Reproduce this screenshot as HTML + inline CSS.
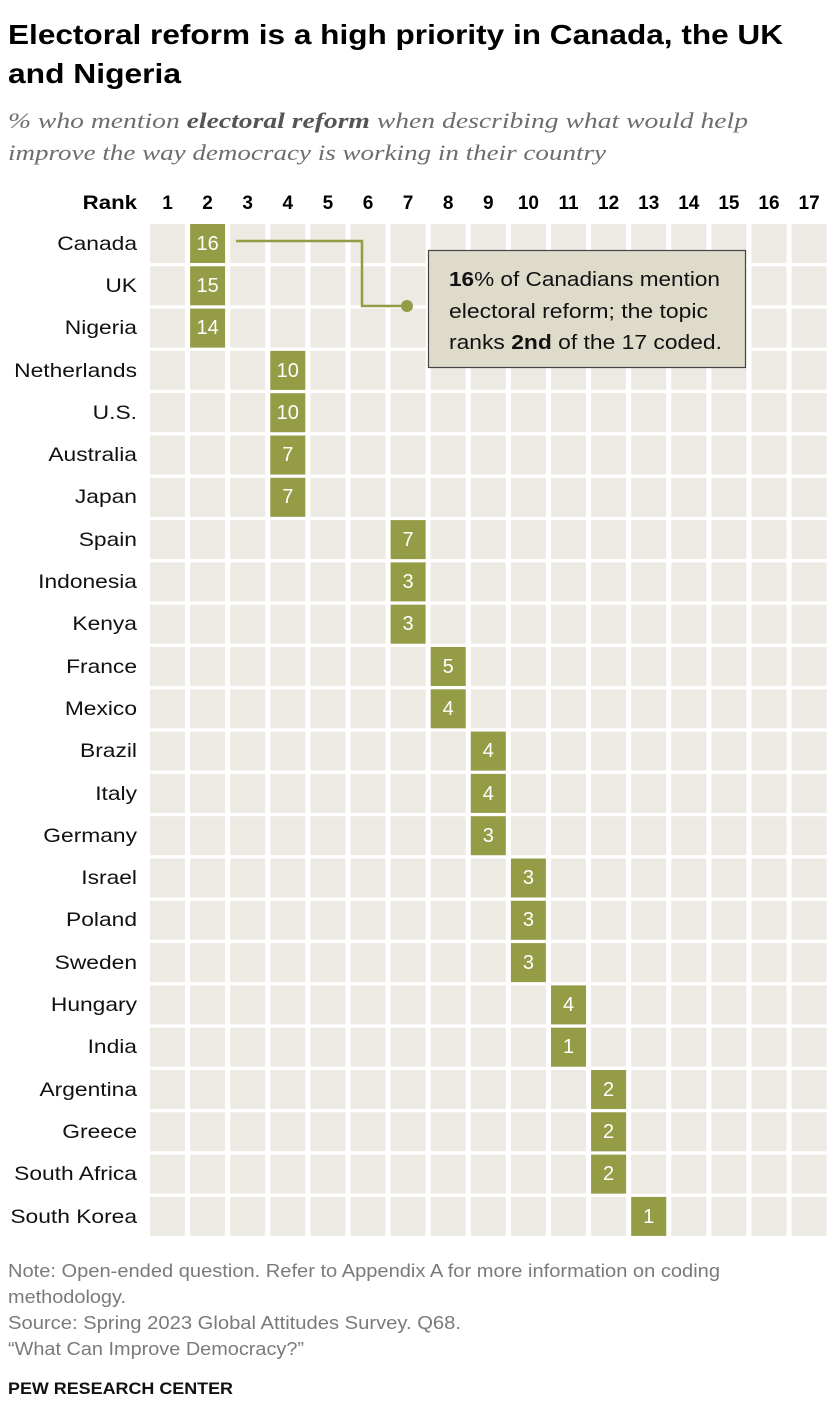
<!DOCTYPE html>
<html><head><meta charset="utf-8"><style>
html,body{margin:0;padding:0;background:#fff;}
svg{display:block;}
text{font-family:"Liberation Sans",sans-serif;}
</style></head><body>
<svg width="840" height="1421" viewBox="0 0 840 1421" xmlns="http://www.w3.org/2000/svg">
<defs>
<pattern id="g" x="150" y="224" width="40.1" height="42.3" patternUnits="userSpaceOnUse">
<rect x="0" y="0" width="35" height="39" fill="#ECEAE3"/>
</pattern>
</defs>
<text x="8" y="44" font-size="28" font-weight="bold" fill="#000" textLength="775" lengthAdjust="spacingAndGlyphs">Electoral reform is a high priority in Canada, the UK</text>
<text x="8" y="83" font-size="28" font-weight="bold" fill="#000" textLength="173" lengthAdjust="spacingAndGlyphs">and Nigeria</text>
<text x="8" y="128" font-size="22" font-style="italic" fill="#6d6d6d" style="font-family:'Liberation Serif',serif" textLength="740" lengthAdjust="spacingAndGlyphs">% who mention <tspan font-weight="bold" fill="#555">electoral reform</tspan> when describing what would help</text>
<text x="8" y="160" font-size="22" font-style="italic" fill="#6d6d6d" style="font-family:'Liberation Serif',serif" textLength="598" lengthAdjust="spacingAndGlyphs">improve the way democracy is working in their country</text>

<g font-size="19" font-weight="bold" fill="#000" text-anchor="middle">
<text x="137" y="209" text-anchor="end" transform="translate(137,0) scale(1.17,1) translate(-137,0)">Rank</text>
<text x="167.5" y="209">1</text><text x="207.6" y="209">2</text><text x="247.7" y="209">3</text><text x="287.8" y="209">4</text><text x="327.9" y="209">5</text><text x="368" y="209">6</text><text x="408.1" y="209">7</text><text x="448.2" y="209">8</text><text x="488.3" y="209">9</text><text x="528.4" y="209">10</text><text x="568.5" y="209">11</text><text x="608.6" y="209">12</text><text x="648.7" y="209">13</text><text x="688.8" y="209">14</text><text x="728.9" y="209">15</text><text x="769" y="209">16</text><text x="809.1" y="209">17</text>
</g>

<rect x="150" y="224" width="677" height="1012" fill="url(#g)"/>

<g font-size="19" fill="#111" text-anchor="end" transform="translate(137,0) scale(1.2,1) translate(-137,0)">
<text x="137" y="250">Canada</text>
<text x="137" y="292">UK</text>
<text x="137" y="334">Nigeria</text>
<text x="137" y="377">Netherlands</text>
<text x="137" y="419">U.S.</text>
<text x="137" y="461">Australia</text>
<text x="137" y="503">Japan</text>
<text x="137" y="546">Spain</text>
<text x="137" y="588">Indonesia</text>
<text x="137" y="630">Kenya</text>
<text x="137" y="673">France</text>
<text x="137" y="715">Mexico</text>
<text x="137" y="757">Brazil</text>
<text x="137" y="800">Italy</text>
<text x="137" y="842">Germany</text>
<text x="137" y="884">Israel</text>
<text x="137" y="926">Poland</text>
<text x="137" y="969">Sweden</text>
<text x="137" y="1011">Hungary</text>
<text x="137" y="1053">India</text>
<text x="137" y="1096">Argentina</text>
<text x="137" y="1138">Greece</text>
<text x="137" y="1180">South Africa</text>
<text x="137" y="1223">South Korea</text>
</g>

<g fill="#949C45">
<rect x="190.1" y="224" width="35" height="39"/>
<rect x="190.1" y="266.3" width="35" height="39"/>
<rect x="190.1" y="308.6" width="35" height="39"/>
<rect x="270.3" y="350.9" width="35" height="39"/>
<rect x="270.3" y="393.2" width="35" height="39"/>
<rect x="270.3" y="435.5" width="35" height="39"/>
<rect x="270.3" y="477.8" width="35" height="39"/>
<rect x="390.6" y="520.1" width="35" height="39"/>
<rect x="390.6" y="562.4" width="35" height="39"/>
<rect x="390.6" y="604.7" width="35" height="39"/>
<rect x="430.7" y="647" width="35" height="39"/>
<rect x="430.7" y="689.3" width="35" height="39"/>
<rect x="470.8" y="731.6" width="35" height="39"/>
<rect x="470.8" y="773.9" width="35" height="39"/>
<rect x="470.8" y="816.2" width="35" height="39"/>
<rect x="510.9" y="858.5" width="35" height="39"/>
<rect x="510.9" y="900.8" width="35" height="39"/>
<rect x="510.9" y="943.1" width="35" height="39"/>
<rect x="551" y="985.4" width="35" height="39"/>
<rect x="551" y="1027.7" width="35" height="39"/>
<rect x="591.1" y="1070" width="35" height="39"/>
<rect x="591.1" y="1112.3" width="35" height="39"/>
<rect x="591.1" y="1154.6" width="35" height="39"/>
<rect x="631.2" y="1196.9" width="35" height="39"/>
</g>
<g font-size="20" fill="#fff" text-anchor="middle">
<text x="207.6" y="250">16</text>
<text x="207.6" y="292">15</text>
<text x="207.6" y="334">14</text>
<text x="287.8" y="377">10</text>
<text x="287.8" y="419">10</text>
<text x="287.8" y="461">7</text>
<text x="287.8" y="503">7</text>
<text x="408.1" y="546">7</text>
<text x="408.1" y="588">3</text>
<text x="408.1" y="630">3</text>
<text x="448.2" y="673">5</text>
<text x="448.2" y="715">4</text>
<text x="488.3" y="757">4</text>
<text x="488.3" y="800">4</text>
<text x="488.3" y="842">3</text>
<text x="528.4" y="884">3</text>
<text x="528.4" y="926">3</text>
<text x="528.4" y="969">3</text>
<text x="568.5" y="1011">4</text>
<text x="568.5" y="1053">1</text>
<text x="608.6" y="1096">2</text>
<text x="608.6" y="1138">2</text>
<text x="608.6" y="1180">2</text>
<text x="648.7" y="1223">1</text>
</g>

<polyline points="236,241 362,241 362,306 407,306" fill="none" stroke="#949C45" stroke-width="2.5"/>
<circle cx="407" cy="306" r="6" fill="#949C45"/>
<rect x="428.5" y="250.5" width="317" height="117" fill="#DEDBCB" stroke="#444" stroke-width="1.2"/>
<g font-size="20" fill="#111">
<text x="449" y="286" textLength="271" lengthAdjust="spacingAndGlyphs"><tspan font-weight="bold">16</tspan>% of Canadians mention</text>
<text x="449" y="318" textLength="259" lengthAdjust="spacingAndGlyphs">electoral reform; the topic</text>
<text x="449" y="349" textLength="273" lengthAdjust="spacingAndGlyphs">ranks <tspan font-weight="bold">2nd</tspan> of the 17 coded.</text>
</g>

<g font-size="18" fill="#7a7a7a">
<text x="8" y="1277" textLength="712" lengthAdjust="spacingAndGlyphs">Note: Open-ended question. Refer to Appendix A for more information on coding</text>
<text x="8" y="1303" textLength="118" lengthAdjust="spacingAndGlyphs">methodology.</text>
<text x="8" y="1329" textLength="453" lengthAdjust="spacingAndGlyphs">Source: Spring 2023 Global Attitudes Survey. Q68.</text>
<text x="8" y="1355" textLength="296" lengthAdjust="spacingAndGlyphs">“What Can Improve Democracy?”</text>
</g>
<text x="8" y="1394" font-size="17" font-weight="bold" fill="#111" textLength="225" lengthAdjust="spacingAndGlyphs">PEW RESEARCH CENTER</text>
</svg>
</body></html>
